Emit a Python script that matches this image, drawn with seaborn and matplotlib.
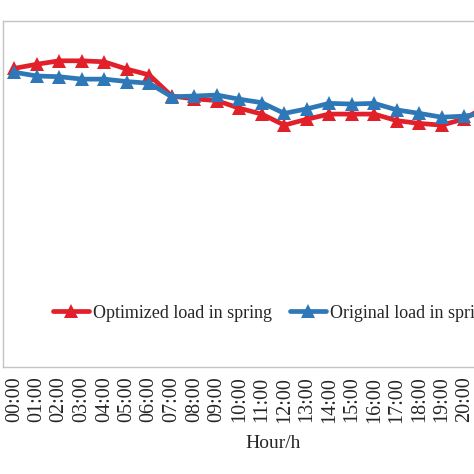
import pandas as pd
import seaborn as sns
import matplotlib.pyplot as plt
from matplotlib.ticker import FixedLocator, NullFormatter

# Hourly load data (kW)
hours = ["%02d:00" % h for h in range(24)]
optimized = [8630, 8750, 8850, 8850, 8820, 8610, 8440, 7830, 7750, 7700, 7480, 7310,
             6990, 7160, 7310, 7310, 7310, 7120, 7040, 6990, 7170, 7540, 7700, 7900]
original = [8520, 8410, 8390, 8320, 8320, 8250, 8200, 7810, 7830, 7860, 7740, 7640,
            7330, 7460, 7620, 7600, 7620, 7430, 7330, 7220, 7250, 7350, 7500, 7700]

df = pd.DataFrame({
    "idx": list(range(24)) * 2,
    "load": optimized + original,
    "series": ["Optimized load in spring"] * 24 + ["Original load in spring"] * 24,
})

sns.set_style("white")
plt.rcParams["font.family"] = ["Liberation Serif", "DejaVu Serif"]

fig = plt.figure(figsize=(4.74, 4.74), dpi=100)
# axes extend past the right edge, like the cropped original
ax = fig.add_axes([3 / 474, 107 / 474, 540 / 474, 346 / 474])

sns.lineplot(data=df, x="idx", y="load", hue="series", marker="^",
             palette=["#E2202A", "#2F78B7"], linewidth=3.4, markersize=10,
             markeredgewidth=0, ax=ax)

ax.set_xlim(-0.5, 23.5)
ax.set_ylim(0, 10000)
ax.set_yticks(range(0, 10001, 1000))
ax.set_yticklabels([])
ax.set_xticks(range(24))
ax.set_xticklabels(hours, rotation=90, fontsize=14.5)
ax.xaxis.set_minor_locator(FixedLocator([i + 0.5 for i in range(-1, 24)]))
ax.xaxis.set_minor_formatter(NullFormatter())
ax.tick_params(axis="x", which="major", length=0, pad=7)
ax.tick_params(axis="x", which="minor", length=5, direction="in", color="#a8a8a8")
ax.tick_params(axis="y", length=4, direction="in", color="#a8a8a8")

for s in ax.spines.values():
    s.set_color("#c4c4c4")
    s.set_linewidth(1)

ax.set_xlabel("Hour/h", fontsize=14, labelpad=9)
ax.set_ylabel("")

ax.legend(loc="center left", bbox_to_anchor=(0.0926, 0.156), ncol=2,
          frameon=False, fontsize=13, handlelength=2.0, handletextpad=0.2,
          columnspacing=1.0, borderpad=0, borderaxespad=0, numpoints=1)

fig.savefig("out.png", dpi=100)
